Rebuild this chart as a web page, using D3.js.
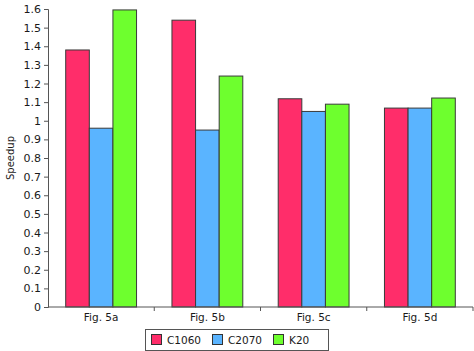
<!DOCTYPE html>
<html>
<head>
<meta charset="utf-8">
<script src="https://cdn.jsdelivr.net/npm/d3@7"></script>
<style>
  body { margin: 0; background: #fff; }
  text { font-family: "DejaVu Sans", sans-serif; fill: #1a1a1a; }
</style>
</head>
<body>
<svg id="chart"></svg>
<script>
// data
let categories = ['Fig. 5a', 'Fig. 5b', 'Fig. 5c', 'Fig. 5d'];
let seriesNames = ['C1060', 'C2070', 'K20'];
let c1060 = [1.38, 1.54, 1.118, 1.068];
let c2070 = [0.96, 0.95, 1.05, 1.068];
let k20 = [1.595, 1.24, 1.089, 1.122];
let yTicks = [0, 0.1, 0.2, 0.3, 0.4, 0.5, 0.6, 0.7, 0.8, 0.9, 1, 1.1, 1.2, 1.3, 1.4, 1.5, 1.6];
let colors = ['#ff2d6a', '#5ab4ff', '#6eff2e'];

function makeChart() {
	let w = 474;
	let h = 351;
	let marginT = 9;
	let marginL = 48;
	let marginR = 1;
	let marginB = 44;

	let svg = d3.select('#chart')
		.attr('width', w)
		.attr('height', h);

	let table = categories.map((c, i) => ({
		cat: c,
		vals: [c1060[i], c2070[i], k20[i]]
	}));

	let xScale = d3.scaleBand()
		.domain(categories)
		.range([marginL, w - marginR])
		.paddingInner(0)
		.paddingOuter(0);

	// three bars with 0.75 bar-width gaps at each side
	let inner = d3.scaleBand()
		.domain(seriesNames)
		.range([0, xScale.bandwidth()])
		.paddingOuter(0.75)
		.paddingInner(0);

	let yScale = d3.scaleLinear()
		.domain([0, 1.6])
		.range([h - marginB, marginT]);

	let groups = svg.selectAll('g.grp')
		.data(table)
		.enter()
		.append('g')
		.attr('class', 'grp')
		.attr('transform', d => 'translate(' + xScale(d.cat) + ',0)');

	groups.selectAll('rect')
		.data(d => d.vals.map((v, i) => ({ key: seriesNames[i], v: v, i: i })))
		.enter()
		.append('rect')
		.attr('x', d => inner(d.key))
		.attr('y', d => yScale(d.v))
		.attr('width', inner.bandwidth())
		.attr('height', d => yScale(0) - yScale(d.v))
		.attr('fill', d => colors[d.i])
		.attr('stroke', '#3a3a3a')
		.attr('stroke-width', 1);

	// y axis
	let yAxis = svg.append('g')
		.attr('transform', 'translate(' + marginL + ',0)')
		.call(d3.axisLeft(yScale).tickValues(yTicks).tickFormat(d3.format('~g')).tickSizeOuter(0).tickSize(4));
	yAxis.selectAll('text').style('font-size', '11px');
	yAxis.select('.domain').attr('stroke', '#555');
	yAxis.selectAll('.tick line').attr('stroke', '#555');

	// x axis, ticks on category boundaries
	let xAxis = svg.append('g')
		.attr('transform', 'translate(0,' + yScale(0) + ')');
	xAxis.append('line')
		.attr('x1', marginL).attr('x2', w - marginR)
		.attr('stroke', '#555');
	let bounds = categories.map(c => xScale(c)).concat([xScale(categories[categories.length - 1]) + xScale.bandwidth()]);
	xAxis.selectAll('line.tk')
		.data(bounds.slice(1))
		.enter()
		.append('line')
		.attr('class', 'tk')
		.attr('x1', d => d).attr('x2', d => d)
		.attr('y1', 0).attr('y2', 4)
		.attr('stroke', '#555');
	xAxis.selectAll('text')
		.data(categories)
		.enter()
		.append('text')
		.attr('x', d => xScale(d) + xScale.bandwidth() / 2)
		.attr('y', 14)
		.attr('text-anchor', 'middle')
		.style('font-size', '10.5px')
		.text(d => d);

	svg.append('text')
		.attr('transform', 'translate(14,' + ((marginT + yScale(0)) / 2) + ') rotate(-90)')
		.attr('text-anchor', 'middle')
		.style('font-size', '10px')
		.text('Speedup');

	// legend
	let leg = svg.append('g');
	leg.append('rect')
		.attr('x', 145.5).attr('y', 329.5)
		.attr('width', 183).attr('height', 21)
		.attr('fill', '#fff')
		.attr('stroke', '#555');
	let legX = [151, 212, 273];
	seriesNames.forEach((s, i) => {
		leg.append('rect')
			.attr('x', legX[i] + 0.5).attr('y', 334.5)
			.attr('width', 10).attr('height', 10)
			.attr('fill', colors[i])
			.attr('stroke', '#333');
		leg.append('text')
			.attr('x', legX[i] + 16).attr('y', 344)
			.style('font-size', '10.5px')
			.text(s);
	});
}

window.onload = function () {
	makeChart();
}
</script>
</body>
</html>
